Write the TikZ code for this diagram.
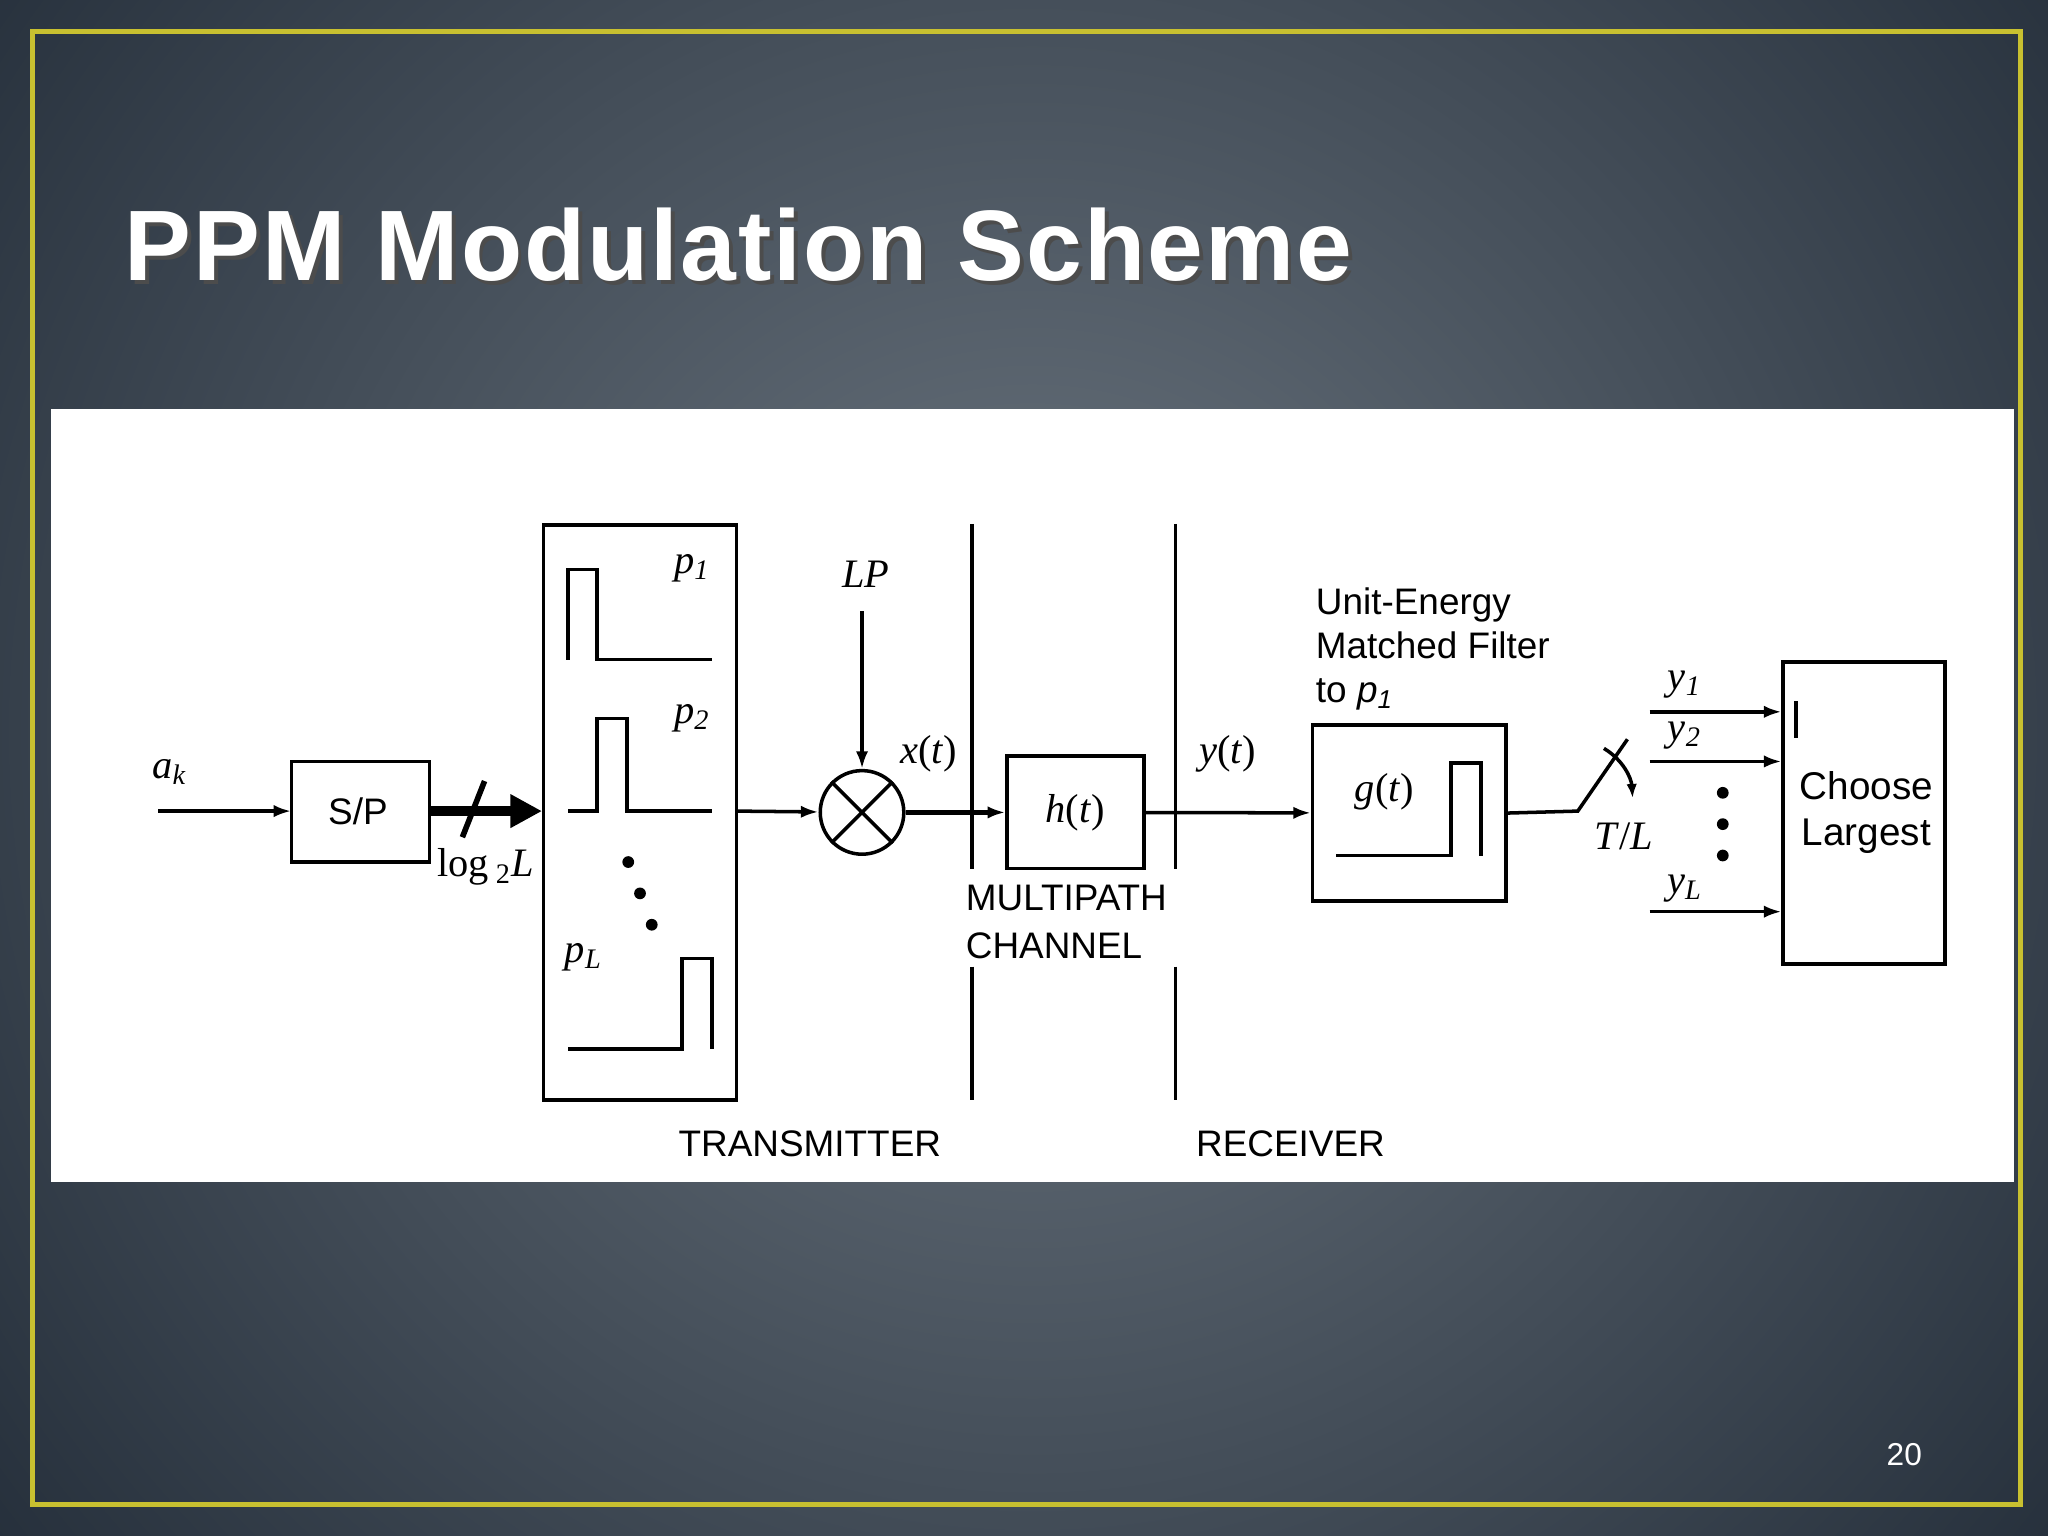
\documentclass[tikz,border=0pt]{standalone}
\usepackage{fontspec}
\setmainfont{Liberation Serif}
\setsansfont{Liberation Sans}
\usetikzlibrary{arrows.meta}
\newcommand\isub[2]{\textit{#1}\textsubscript{\textit{#2}}}
\begin{document}
\begin{tikzpicture}[x=0.013061cm,y=-0.013061cm,
  ln/.style={line width=1pt,black},
  arr/.style={ln,-{Latex[length=5pt,width=3.5pt]}},
  sf/.style={font=\sffamily\fontsize{10.5}{12.5}\selectfont,inner sep=0pt},
  mi/.style={font=\fontsize{11.5}{13}\selectfont,inner sep=0pt},
  tt/.style={anchor=base west,inner sep=0pt,font=\sffamily\bfseries\fontsize{28.5}{34}\selectfont\addfontfeature{LetterSpace=2}},
  bx/.style={ln,draw,fill=white}]
\useasboundingbox (0,0) rectangle (1568,1176);
\begin{scope}
\clip (0,0) rectangle (1568,1176);
\fill[black!90!blue!60!gray] (0,0) rectangle (1568,1176);
\shade[inner color={rgb,255:red,108;green,118;blue,128},outer color={rgb,255:red,28;green,38;blue,50}] (790,560) circle (1150);
\end{scope}
\draw[line width=1.3pt,color={rgb,255:red,200;green,192;blue,48}] (25,24) rectangle (1547,1152);
\node[tt,text=black!70] at (98,218) {PPM Modulation Scheme};
\node[tt,text=white] (title) at (95,215) {PPM Modulation Scheme};
\node[anchor=center,text=white,font=\sffamily\fontsize{9}{11}\selectfont] (pg) at (1458,1114) {20};
\fill[white] (39,313) rectangle (1542,905);
% input
\coordinate (ain) at (121,621);
\node[mi] (ak) at (130,591) {\isub{a}{k}};
\draw[bx] (223,583) rectangle (329,660);
\node[sf] (spt) at (274,621) {S/P};
\coordinate (spr) at (329,621);
\coordinate (spl) at (223,621);
\draw[arr] (ain) -- (spl);
\coordinate (bl) at (415,621);
\draw[line width=3pt,-{Triangle[length=9pt,width=9pt]}] (spr) -- (bl);
\coordinate (s1) at (354,641); \coordinate (s2) at (371,598);
\draw[line width=1.6pt] (s1) -- (s2);
\node[mi,anchor=center] (log) at (372,664) {log\,\textsubscript{2}\textit{L}};
% pulse box
\draw[ln] (416,402) rectangle (564,842);
\draw[ln] (435,505) -- (435,436) -- (457,436) -- (457,505) -- (545,505);
\node[mi] (p1) at (530,435) {\isub{p}{1}};
\draw[ln] (435,621) -- (457,621) -- (457,550) -- (480,550) -- (480,621) -- (545,621);
\node[mi] (p2) at (530,550) {\isub{p}{2}};
\foreach \x/\y in {481/660,490/684,499/708} \fill (\x,\y) circle (4.5);
\draw[ln] (435,803) -- (522,803) -- (522,734) -- (545,734) -- (545,803);
\node[mi] (pL) at (447,733) {\isub{p}{L}};
% multiplier
\node[draw,ln,circle,minimum size=64*0.3716pt,inner sep=0pt] (mul) at (660,622) {};
\draw[ln] (mul.north east) -- (mul.south west) (mul.north west) -- (mul.south east);
\coordinate (bxr) at (564,621);
\draw[arr] (bxr) -- (mul);
\node[mi] (lp) at (663,440) {\textit{LP}};
\coordinate (lpa) at (660,468);
\draw[arr] (lpa) -- (mul);
\node[mi] (xt) at (711,577) {\textit{x}(\textit{t})};
\node[bx,minimum width=105*0.3716pt,minimum height=86*0.3716pt,inner sep=0pt] (h) at (823.5,622) {};
\node[mi] (ht) at (823,622) {\textit{h}(\textit{t})};
\draw[line width=1.6pt,-{Latex[length=5pt,width=3.5pt]}] (mul) -- (h);
% channel lines
\draw[ln] (744,401) -- (744,665) (744,740) -- (744,842);
\draw[ln] (900,401) -- (900,665) (900,740) -- (900,842);
\node[sf,anchor=west,align=left] (mc) at (739,706) {MULTIPATH\\[1pt]CHANNEL};
% matched filter
\node[bx,minimum width=148*0.3716pt,minimum height=135*0.3716pt,inner sep=0pt] (g) at (1079,622.5) {};
\draw[arr] (h) -- (g);
\node[mi] (yt) at (940,577) {\textit{y}(\textit{t})};
\draw[ln] (1023,655) -- (1111,655) -- (1111,584) -- (1134,584) -- (1134,655);
\node[mi] (gt) at (1060,606) {\textit{g}(\textit{t})};
\node[sf,anchor=west,align=left] (mf) at (1007,497) {Unit-Energy\\[0pt]Matched Filter\\[0pt]to \isub{p}{1}};
% switch
\coordinate (sw0) at (1208,621); \coordinate (sw1) at (1246,566);
\draw[ln] (g.east) -- (sw0) -- (sw1);
\coordinate (aa) at (1228,573); \coordinate (ab) at (1250,611);
\draw[ln,-{Latex[length=4pt,width=3pt]}] (aa) .. controls (1243,582) and (1249,596) .. (ab);
\node[mi] (tl) at (1243,640) {\textit{T}/\textit{L}};
% outputs
\draw[bx] (1365,507) rectangle (1489,738);
\node[sf,align=center,font=\sffamily\fontsize{11}{13}\selectfont] (clt) at (1429,622) {Choose\\[0pt]Largest};
\draw[ln] (1375,537) -- (1375,565);
\foreach \yy/\lab/\ly in {545/1/524,583/2/563,698/L/680}{
  \coordinate (o\lab) at (1263,\yy); \coordinate (e\lab) at (1364,\yy);
  \draw[arr] (o\lab) -- (e\lab);
  \node[mi] at (1290,\ly) {\isub{y}{\lab}};}
\foreach \y in {607,631,655} \fill (1319,\y) circle (4.5);
\node[sf] (tx) at (620,876) {TRANSMITTER};
\node[sf] (rx) at (988,876) {RECEIVER};
\end{tikzpicture}
\end{document}
